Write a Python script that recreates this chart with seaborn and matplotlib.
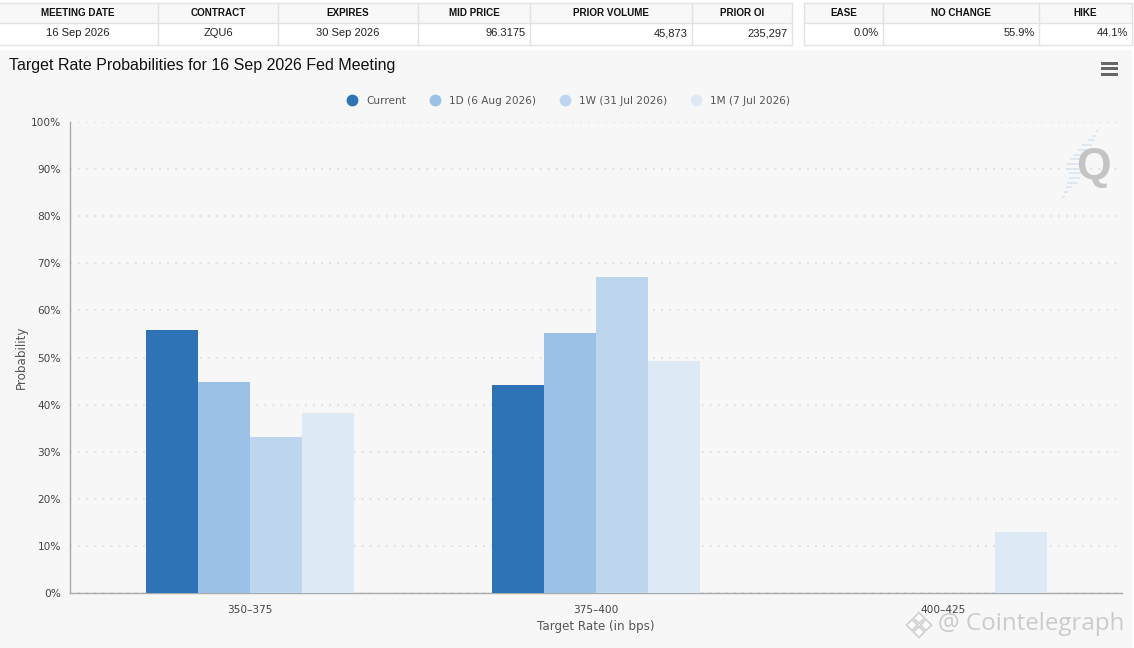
import pandas as pd
import matplotlib
matplotlib.use("Agg")
import matplotlib.pyplot as plt
from matplotlib.lines import Line2D
from matplotlib.patches import FancyBboxPatch, Rectangle, RegularPolygon
import seaborn as sns

# chart values
rates = ["350–375", "375–400", "400–425"]
series_names = ["Current", "1D (6 Aug 2026)", "1W (31 Jul 2026)", "1M (7 Jul 2026)"]
current = [55.9, 44.1, 0]
one_day = [44.8, 55.2, 0]
one_week = [33.1, 67.0, 0]
one_month = [38.2, 49.2, 12.9]
colors = ["#2e73b5", "#9cc1e6", "#bdd6ee", "#ddeaf6"]

# tables on top
head_left = ["MEETING DATE", "CONTRACT", "EXPIRES", "MID PRICE", "PRIOR VOLUME", "PRIOR OI"]
row_left = ["16 Sep 2026", "ZQU6", "30 Sep 2026", "96.3175", "45,873", "235,297"]
head_right = ["EASE", "NO CHANGE", "HIKE"]
row_right = ["0.0%", "55.9%", "44.1%"]

W, H = 1134, 648
sns.set_theme(style="white")
plt.rcParams["font.family"] = ["DejaVu Sans"]

df = pd.DataFrame({"rate": rates * 4,
                   "series": [s for s in series_names for _ in rates],
                   "prob": current + one_day + one_week + one_month})

fig = plt.figure(figsize=(W / 100, H / 100), dpi=100, facecolor="white")

# background layer, pixel coordinates
bg = fig.add_axes([0, 0, 1, 1], zorder=0)
bg.set_xlim(0, W)
bg.set_ylim(H, 0)
bg.axis("off")
bg.add_patch(FancyBboxPatch((0, 50), W - 2, H, boxstyle="round,pad=0,rounding_size=3",
                            fc="#f7f7f7", ec="none"))


def draw_table(edges, heads, row, aligns):
    line = "#e2e2e2"
    bg.add_patch(Rectangle((edges[0], 3), edges[-1] - edges[0], 20, fc="#f8f8f8", ec="none"))
    for y in [3, 23, 45]:
        bg.plot([edges[0], edges[-1]], [y, y], color=line, lw=1)
    for x in edges:
        bg.plot([x, x], [3, 45], color=line, lw=1)
    for i, (a, b) in enumerate(zip(edges[:-1], edges[1:])):
        bg.text((a + b) / 2, 12.5, heads[i], ha="center", va="center", fontsize=7.1,
                fontweight="bold", family="Liberation Sans", color="#111111")
        if aligns[i] == "center":
            bg.text((a + b) / 2, 33.5, row[i], ha="center", va="center", fontsize=8,
                    family="Liberation Sans", color="#222222")
        else:
            bg.text(b - 4, 33.5, row[i], ha="right", va="center", fontsize=8,
                    family="Liberation Sans", color="#222222")


draw_table([-2, 158, 278, 418, 530, 692, 792], head_left, row_left,
           ["center", "center", "center", "right", "right", "right"])
draw_table([804, 883, 1039, 1132], head_right, row_right, ["right", "right", "right"])

bg.text(9, 65.5, "Target Rate Probabilities for 16 Sep 2026 Fed Meeting", ha="left", va="center",
        fontsize=11.5, family="Liberation Sans", color="#111111")

# main chart
ax = fig.add_axes([70 / W, 1 - 593 / H, (1122 - 70) / W, (593 - 122) / H], zorder=1)
ax.patch.set_alpha(0)
sns.barplot(data=df, x="rate", y="prob", hue="series", hue_order=series_names, palette=colors,
            width=0.6, gap=0, saturation=1, dodge=True, legend=False, linewidth=0, ax=ax, zorder=3)
ax.set_xlim(-0.518, 2.517)
ax.set_ylim(0, 100)
ax.set_yticks(range(0, 101, 10))
ax.set_yticklabels([f"{v}%" for v in range(0, 101, 10)])
ax.yaxis.grid(True, color="#dcdcdc", lw=1.1, linestyle=(0, (1.3, 4)))
ax.set_axisbelow(True)
ax.tick_params(axis="y", length=5, width=0.7, color="#d8d8d8", labelsize=7.6, labelcolor="#444444", pad=1.5)
ax.tick_params(axis="x", length=7, width=0.7, color="#d8d8d8", labelsize=7.6, labelcolor="#444444", pad=1.5)
for side in ["top", "right"]:
    ax.spines[side].set_visible(False)
for side in ["left", "bottom"]:
    ax.spines[side].set_color("#aaaaaa")
    ax.spines[side].set_linewidth(1)
ax.set_xlabel("Target Rate (in bps)", fontsize=8.6, color="#555555", labelpad=4)
ax.set_ylabel("Probability", fontsize=8.6, color="#555555", labelpad=2)

handles = [Line2D([], [], ls="none", marker="o", ms=8.5, mfc=c, mec="none") for c in colors]
fig.legend(handles, series_names, loc="center", bbox_to_anchor=(567 / W, 1 - 101 / H), ncol=4,
           frameon=False, fontsize=7.6, labelcolor="#555555", handletextpad=0.55,
           columnspacing=1.9, handlelength=1.6)

# decorations over the chart
top = fig.add_axes([0, 0, 1, 1], zorder=2)
top.set_xlim(0, W)
top.set_ylim(H, 0)
top.axis("off")
top.patch.set_alpha(0)

# menu icon
for y in [63, 68.5, 74]:
    top.add_patch(Rectangle((1101, y - 1.5), 17, 3, fc="#666666", ec="none"))

# Q logo
for i, (x0, x1) in enumerate([(1096, 1098), (1092, 1096), (1088, 1095), (1082, 1092), (1078, 1086),
                              (1074, 1084), (1070, 1082), (1066, 1082), (1067, 1082), (1069, 1082),
                              (1069, 1080), (1067, 1078), (1066, 1072), (1064, 1068), (1062, 1065)]):
    top.plot([x0, x1], [131 + i * 4.7] * 2, color="#d6e4f2", lw=1.1, solid_capstyle="butt")
top.text(1093, 167.5, "Q", ha="center", va="center", fontsize=32, fontweight="bold",
         family="Liberation Sans", color="#c4c4c4")

# Cointelegraph watermark
top.text(938, 624, "@ Cointelegraph", ha="left", va="center", fontsize=17.4, family="Open Sans",
         color="#c9c9c9", alpha=0.95)
for dx, dy in [(0, -7), (-7, 0), (7, 0), (0, 7)]:
    top.add_patch(RegularPolygon((919 + dx, 625 + dy), 4, radius=5.5, orientation=0, fc="#fbfbfb",
                                 ec="#d0d0d0", lw=1.2))

fig.savefig("out.png", dpi=100)
